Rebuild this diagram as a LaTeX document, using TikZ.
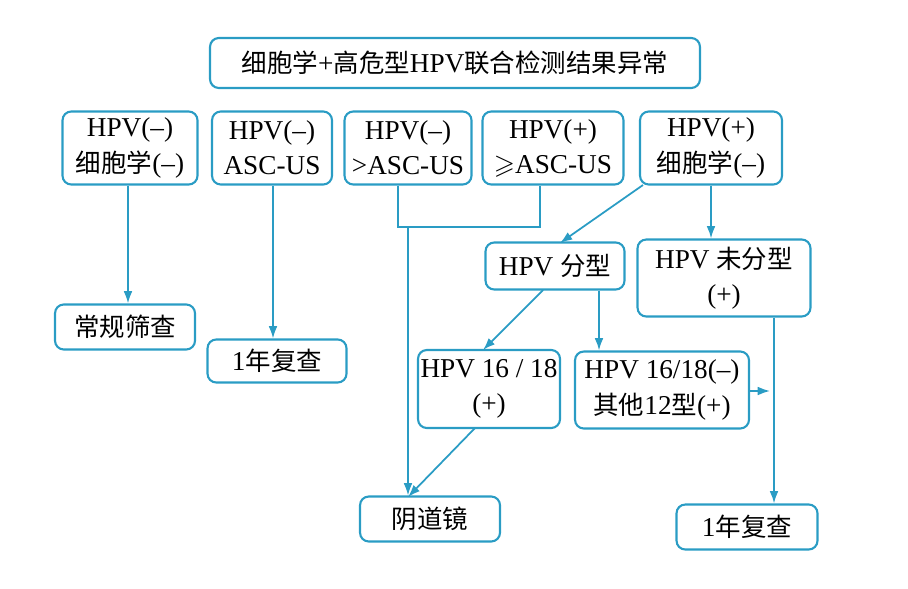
\documentclass[tikz,border=0pt]{standalone}
\usepackage{amssymb}
\usepackage{fontspec}
\setmainfont{Liberation Serif}
\newfontfamily\cjk{Noto Sans CJK SC}
\newcommand{\zh}[1]{{\cjk\fontsize{14.5}{17}\selectfont #1}}
\usetikzlibrary{arrows.meta}
\definecolor{ln}{HTML}{2A9CC4}
\begin{document}
\begin{tikzpicture}[x=0.02cm,y=-0.02cm,
 bx/.style={draw=ln,line width=1.2pt,rounded corners=5pt,align=center,font=\fontsize{15.5}{20}\selectfont,inner sep=0pt},
 ar/.style={draw=ln,line width=1pt,-{Latex[length=7pt,width=5pt]}},
 ln/.style={draw=ln,line width=1pt}]
\useasboundingbox (0,0) rectangle (908,588);
\node[bx,minimum width=9.8cm,minimum height=1cm] (t) at (455,63) {\zh{细胞学}+\zh{高危型}HPV\zh{联合检测结果异常}};
\node[bx,minimum width=2.7cm,minimum height=1.46cm] (a) at (130,148) {HPV(--)\\\zh{细胞学}(--)};
\node[bx,minimum width=2.4cm,minimum height=1.46cm] (b) at (272,148) {HPV(--)\\ASC-US};
\node[bx,minimum width=2.54cm,minimum height=1.46cm] (c) at (408,148) {HPV(--)\\>ASC-US};
\node[bx,minimum width=2.82cm,minimum height=1.46cm] (d) at (553,148) {HPV(+)\\$\geqslant$ASC-US};
\node[bx,minimum width=2.84cm,minimum height=1.46cm] (e) at (711,148) {HPV(+)\\\zh{细胞学}(--)};
\node[bx,minimum width=2.8cm,minimum height=0.9cm] (f) at (125,327) {\zh{常规筛查}};
\node[bx,minimum width=2.78cm,minimum height=0.86cm] (g) at (277,361) {1\zh{年复查}};
\node[bx,minimum width=2.78cm,minimum height=0.94cm] (h) at (555,266) {HPV \zh{分型}};
\node[bx,minimum width=3.46cm,minimum height=1.54cm] (i) at (724,278) {HPV \zh{未分型}\\(+)};
\node[bx,minimum width=2.84cm,minimum height=1.56cm] (j) at (489,389) {HPV 16 / 18\\(+)};
\node[bx,minimum width=3.48cm,minimum height=1.54cm] (k) at (662,390) {HPV 16/18(--)\\\zh{其他}12\zh{型}(+)};
\node[bx,minimum width=2.8cm,minimum height=0.9cm] (l) at (430,519) {\zh{阴道镜}};
\node[bx,minimum width=2.82cm,minimum height=0.9cm] (m) at (747,527) {1\zh{年复查}};
\coordinate (cj) at (398,227);\coordinate (dj) at (540,227);
\draw[ar] (a.south -| 128,0) -- (f.north -| 128,0);
\draw[ar] (b.south -| 273,0) -- (g.north -| 273,0);
\draw[ln] (c.south -| cj) -- (cj) -- (dj) -- (d.south -| dj);
\draw[ar] (cj -| 408,0) -- (l.north -| 408,0);
\draw[ar] (643,185) -- (560,243);
\draw[ar] (e.south -| 711,0) -- (i.north -| 711,0);
\draw[ar] (543,290) -- (483,350);
\draw[ar] (h.south -| 599,0) -- (k.north -| 599,0);
\draw[ar] (475,428) -- (408,497);
\draw[ar] (i.south -| 774,0) -- (m.north -| 774,0);
\coordinate (kr) at (774,391);
\draw[ar] (k.east |- kr) -- (770,391);
\end{tikzpicture}
\end{document}
